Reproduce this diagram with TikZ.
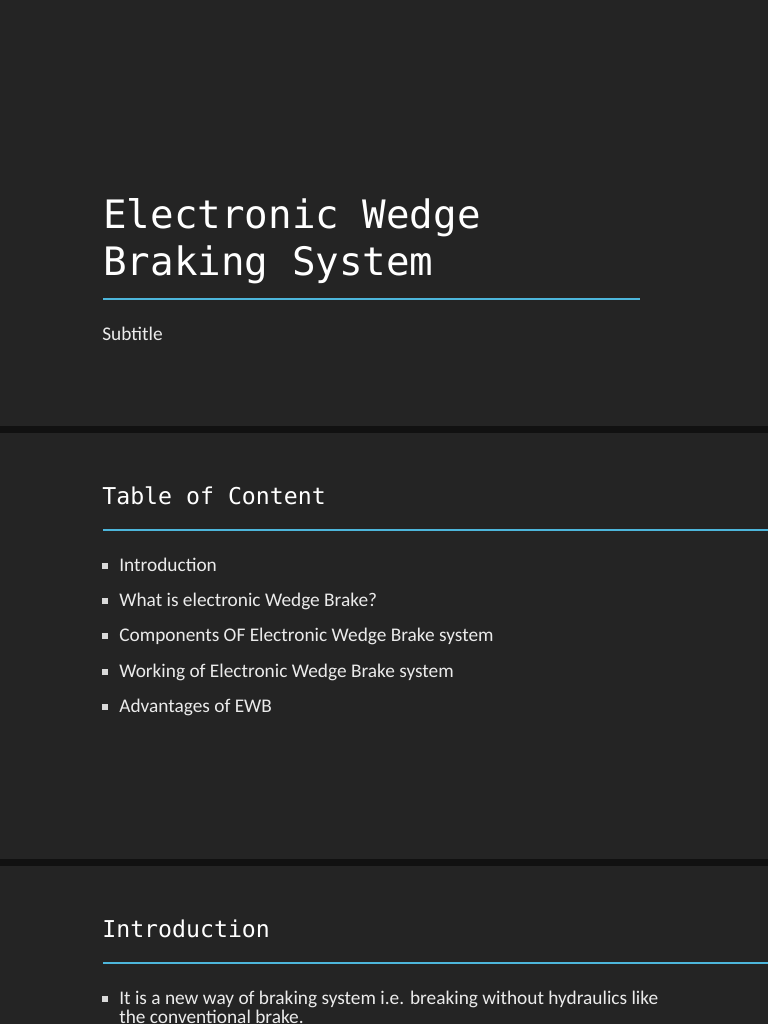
\documentclass[tikz,border=0pt]{standalone}
\usepackage{fontspec}
\setmainfont{Carlito}
\newfontfamily\monofont{DejaVu Sans Mono}
\definecolor{board}{HTML}{242424}
\definecolor{gapcol}{HTML}{111111}
\definecolor{chalkblue}{HTML}{4DB6DB}
\tikzset{%
	slide/.style={fill=board, draw=none},
	ruleline/.style={chalkblue, line width=1.4pt},
	heading/.style={anchor=base west, text=white, font=\monofont\fontsize{13.2}{16}\selectfont, inner sep=0pt},
	item/.style={anchor=base west, text=white!92!black, font=\fontsize{11}{13}\selectfont, inner sep=0pt},
	bullet/.style={fill=white!85!black, minimum size=3pt, inner sep=0pt},
}
\begin{document}
\begin{tikzpicture}[x=0.02cm, y=-0.02cm]
	\useasboundingbox (0,0) rectangle (768,1024);
	\fill[gapcol] (0,0) rectangle (768,1024);
	
	% slides
	\fill[slide] (0,0) rectangle (768,426);
	\fill[slide] (0,433) rectangle (768,859);
	\fill[slide] (0,866) rectangle (768,1024);
	
	% title slide
	\node[heading, font=\monofont\fontsize{22.3}{27}\selectfont] (t1) at (103,228) {Electronic Wedge};
	\node[heading, font=\monofont\fontsize{22.3}{27}\selectfont] (t2) at (103,275) {Braking System};
	\draw[ruleline] (103,299) -- (640,299);
	\node[item] (sub) at (102,340) {Subtitle};
	
	% table of content
	\node[heading] (toc) at (102,504) {Table of Content};
	\draw[ruleline] (103,530) -- (768,530);
	\foreach \y/\txt [count=\i] in {571/Introduction,
		606/What is electronic Wedge Brake?,
		641/Components OF Electronic Wedge Brake system,
		677/Working of Electronic Wedge Brake system,
		712/Advantages of EWB} {
		\node[bullet] (b\i) at (105,\y-5) {};
		\node[item] (i\i) at (119,\y) {\txt};
	}
	
	% introduction
	\node[heading] (intro) at (102,937) {Introduction};
	\draw[ruleline] (103,963) -- (768,963);
	\node[bullet] (c1) at (105,999) {};
	\node[item] (j1) at (119,1004) {It is a new way of braking system i.e. breaking without hydraulics like};
	\node[item] (j2) at (119,1023) {the conventional brake.};
\end{tikzpicture}
\end{document}
